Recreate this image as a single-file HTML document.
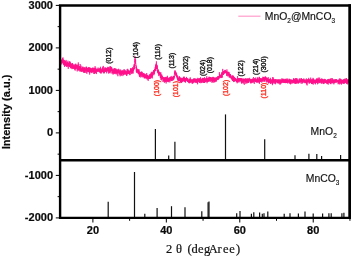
<!DOCTYPE html>
<html><head><meta charset="utf-8"><title>XRD</title>
<style>
html,body{margin:0;padding:0;background:#fff;}
body{width:351px;height:256px;overflow:hidden;}
svg{display:block;}
svg text{font-family:"Liberation Sans",sans-serif;}
.ax{font-weight:bold;font-size:11px;fill:#0a0a0a;stroke:#0a0a0a;stroke-width:0.2px;}
.pk{font-size:7px;}
.lb{font-size:10.4px;fill:#111;stroke:#111;stroke-width:0.15px;}
.xl{font-family:"Liberation Serif",serif;font-size:12.5px;fill:#111;stroke:#111;stroke-width:0.2px;white-space:pre;}
</style></head>
<body>
<svg width="351" height="256" viewBox="0 0 351 256">
<rect x="0" y="0" width="351" height="256" fill="#fff"/>
<polyline points="61.20,61.57 61.27,62.19 61.34,61.09 61.41,59.90 61.47,60.79 61.54,59.76 61.61,61.87 61.68,64.43 61.75,60.84 61.82,60.62 61.88,62.84 61.95,62.61 62.02,62.14 62.09,60.13 62.16,61.94 62.23,63.39 62.30,59.41 62.36,61.19 62.43,58.38 62.50,59.62 62.57,58.57 62.64,61.75 62.71,59.76 62.77,62.80 62.84,62.61 62.91,61.97 62.98,57.44 63.05,61.34 63.12,62.33 63.18,62.67 63.25,59.50 63.32,61.58 63.39,60.64 63.46,61.00 63.53,64.67 63.60,61.07 63.66,62.60 63.73,64.42 63.80,61.59 63.87,62.54 63.94,63.00 64.01,62.94 64.07,60.48 64.14,63.03 64.21,65.54 64.28,59.95 64.35,64.63 64.42,63.23 64.49,61.79 64.55,66.93 64.62,64.56 64.69,60.81 64.76,63.30 64.83,64.30 64.90,62.85 64.96,64.56 65.03,63.15 65.10,64.59 65.17,66.10 65.24,62.07 65.31,63.79 65.38,62.54 65.44,63.70 65.51,61.22 65.58,62.41 65.65,63.18 65.72,65.30 65.79,65.80 65.85,61.11 65.92,62.16 65.99,64.94 66.06,59.93 66.13,62.88 66.20,63.61 66.26,66.22 66.33,65.17 66.40,63.26 66.47,63.22 66.54,63.47 66.61,66.87 66.68,63.19 66.74,63.46 66.81,64.74 66.88,63.87 66.95,63.75 67.02,62.05 67.09,64.16 67.15,63.38 67.22,66.45 67.29,65.51 67.36,64.26 67.43,65.59 67.50,63.72 67.57,66.37 67.63,64.41 67.70,65.55 67.77,62.05 67.84,65.16 67.91,61.36 67.98,60.74 68.04,64.02 68.11,62.93 68.18,64.96 68.25,68.89 68.32,63.14 68.39,63.56 68.46,65.14 68.52,65.71 68.59,64.49 68.66,64.46 68.73,66.18 68.80,65.87 68.87,63.00 68.93,64.80 69.00,65.05 69.07,63.04 69.14,65.52 69.21,63.46 69.28,66.90 69.34,65.47 69.41,65.31 69.48,64.07 69.55,64.97 69.62,61.51 69.69,63.15 69.76,65.95 69.82,61.35 69.89,66.90 69.96,62.12 70.03,66.78 70.10,63.84 70.17,66.87 70.23,65.70 70.30,62.64 70.37,67.81 70.44,68.19 70.51,65.44 70.58,65.08 70.65,65.31 70.71,63.84 70.78,67.68 70.85,64.69 70.92,65.62 70.99,64.28 71.06,64.61 71.12,63.44 71.19,68.12 71.26,65.55 71.33,67.63 71.40,65.91 71.47,64.64 71.54,65.34 71.60,64.94 71.67,66.00 71.74,65.33 71.81,65.49 71.88,63.55 71.95,64.62 72.01,69.14 72.08,64.92 72.15,64.24 72.22,66.81 72.29,68.78 72.36,63.59 72.42,65.89 72.49,65.14 72.56,63.12 72.63,67.68 72.70,66.33 72.77,66.52 72.84,65.05 72.90,67.27 72.97,65.49 73.04,66.24 73.11,64.51 73.18,64.35 73.25,68.99 73.31,65.68 73.38,67.15 73.45,66.59 73.52,65.88 73.59,65.78 73.66,67.86 73.73,66.20 73.79,66.50 73.86,66.84 73.93,68.94 74.00,68.07 74.07,67.56 74.14,65.88 74.20,64.43 74.27,68.65 74.34,68.70 74.41,66.73 74.48,67.98 74.55,68.44 74.62,68.55 74.68,68.73 74.75,66.29 74.82,69.84 74.89,64.92 74.96,68.71 75.03,68.08 75.09,68.78 75.16,70.59 75.23,69.91 75.30,65.23 75.37,64.29 75.44,68.78 75.50,65.53 75.57,67.34 75.64,68.88 75.71,64.48 75.78,63.67 75.85,67.91 75.92,67.55 75.98,67.05 76.05,67.58 76.12,66.00 76.19,64.86 76.26,67.27 76.33,65.86 76.39,64.69 76.46,68.52 76.53,67.54 76.60,68.39 76.67,65.93 76.74,66.54 76.81,65.95 76.87,66.17 76.94,68.11 77.01,66.39 77.08,68.43 77.15,68.42 77.22,71.41 77.28,65.39 77.35,69.44 77.42,67.73 77.49,67.88 77.56,65.36 77.63,67.13 77.70,69.27 77.76,67.83 77.83,68.13 77.90,67.50 77.97,70.06 78.04,68.01 78.11,64.19 78.17,66.86 78.24,64.63 78.31,62.40 78.38,67.20 78.45,70.49 78.52,68.25 78.58,66.12 78.65,66.55 78.72,70.20 78.79,68.51 78.86,68.34 78.93,68.18 79.00,68.35 79.06,69.72 79.13,69.29 79.20,68.72 79.27,66.53 79.34,69.27 79.41,67.20 79.47,70.32 79.54,66.21 79.61,68.20 79.68,68.45 79.75,66.17 79.82,71.50 79.89,71.06 79.95,67.72 80.02,69.89 80.09,69.23 80.16,64.03 80.23,69.04 80.30,68.51 80.36,68.78 80.43,66.78 80.50,68.20 80.57,68.38 80.64,70.77 80.71,69.30 80.78,68.73 80.84,71.41 80.91,67.81 80.98,68.12 81.05,65.66 81.12,71.55 81.19,70.52 81.25,70.45 81.32,70.04 81.39,69.09 81.46,69.29 81.53,68.50 81.60,68.60 81.67,69.06 81.73,71.60 81.80,69.96 81.87,68.92 81.94,68.04 82.01,67.96 82.08,71.84 82.14,69.96 82.21,69.22 82.28,68.53 82.35,67.23 82.42,69.04 82.49,70.68 82.55,68.51 82.62,68.81 82.69,68.84 82.76,69.42 82.83,66.51 82.90,68.86 82.97,67.82 83.03,70.82 83.10,67.99 83.17,70.32 83.24,71.96 83.31,68.82 83.38,68.34 83.44,69.72 83.51,69.40 83.58,67.71 83.65,70.22 83.72,72.89 83.79,69.02 83.86,69.12 83.92,67.70 83.99,70.04 84.06,67.38 84.13,67.63 84.20,71.72 84.27,68.00 84.33,71.41 84.40,72.18 84.47,70.03 84.54,70.55 84.61,72.94 84.68,69.29 84.75,68.63 84.81,67.34 84.88,69.73 84.95,72.19 85.02,71.32 85.09,68.09 85.16,68.25 85.22,68.86 85.29,70.23 85.36,69.39 85.43,70.11 85.50,70.26 85.57,69.26 85.63,69.71 85.70,70.14 85.77,69.66 85.84,70.67 85.91,73.00 85.98,70.83 86.05,69.93 86.11,66.98 86.18,70.52 86.25,66.56 86.32,67.48 86.39,71.33 86.46,71.09 86.52,69.65 86.59,67.01 86.66,69.29 86.73,68.78 86.80,71.02 86.87,73.78 86.94,70.33 87.00,68.65 87.07,67.99 87.14,69.89 87.21,69.70 87.28,68.05 87.35,70.21 87.41,68.07 87.48,71.91 87.55,71.84 87.62,71.89 87.69,69.26 87.76,70.94 87.83,69.85 87.89,69.43 87.96,69.52 88.03,67.91 88.10,67.68 88.17,71.47 88.24,69.81 88.30,70.51 88.37,71.84 88.44,67.24 88.51,68.85 88.58,70.48 88.65,70.85 88.71,69.56 88.78,71.94 88.85,70.57 88.92,68.18 88.99,68.67 89.06,71.60 89.13,71.03 89.19,67.06 89.26,72.54 89.33,71.29 89.40,72.55 89.47,69.65 89.54,69.81 89.60,68.42 89.67,74.59 89.74,70.04 89.81,73.01 89.88,69.27 89.95,70.64 90.02,67.56 90.08,69.74 90.15,72.04 90.22,68.30 90.29,72.21 90.36,70.98 90.43,68.68 90.49,69.60 90.56,69.68 90.63,70.37 90.70,69.57 90.77,69.09 90.84,69.97 90.91,68.77 90.97,68.34 91.04,70.43 91.11,72.00 91.18,67.96 91.25,70.54 91.32,69.46 91.38,68.92 91.45,71.99 91.52,69.70 91.59,73.09 91.66,69.28 91.73,71.24 91.79,70.22 91.86,69.35 91.93,71.60 92.00,70.37 92.07,71.64 92.14,70.56 92.21,68.83 92.27,70.49 92.34,70.75 92.41,72.27 92.48,69.16 92.55,70.62 92.62,67.82 92.68,71.79 92.75,68.90 92.82,67.70 92.89,70.62 92.96,72.57 93.03,68.19 93.10,68.92 93.16,69.51 93.23,68.87 93.30,71.39 93.37,69.42 93.44,69.57 93.51,71.75 93.57,69.52 93.64,71.51 93.71,69.18 93.78,68.78 93.85,67.75 93.92,73.91 93.99,70.28 94.05,71.23 94.12,70.77 94.19,71.10 94.26,70.92 94.33,74.02 94.40,69.12 94.46,68.26 94.53,69.17 94.60,68.64 94.67,72.11 94.74,72.23 94.81,69.27 94.87,68.57 94.94,70.29 95.01,73.20 95.08,66.20 95.15,71.77 95.22,69.11 95.29,72.63 95.35,69.11 95.42,70.44 95.49,68.41 95.56,69.29 95.63,73.22 95.70,72.29 95.76,70.26 95.83,69.49 95.90,67.79 95.97,70.29 96.04,70.89 96.11,70.81 96.18,70.79 96.24,69.09 96.31,70.85 96.38,70.90 96.45,73.11 96.52,74.06 96.59,70.74 96.65,69.70 96.72,70.87 96.79,69.97 96.86,69.75 96.93,70.89 97.00,69.26 97.07,72.00 97.13,70.82 97.20,71.41 97.27,70.69 97.34,69.79 97.41,69.43 97.48,70.61 97.54,70.10 97.61,71.40 97.68,71.00 97.75,68.75 97.82,71.12 97.89,68.79 97.95,69.99 98.02,70.53 98.09,67.58 98.16,71.17 98.23,71.27 98.30,70.76 98.37,70.32 98.43,70.40 98.50,69.41 98.57,70.58 98.64,70.11 98.71,71.17 98.78,69.03 98.84,71.41 98.91,71.26 98.98,70.78 99.05,70.29 99.12,71.93 99.19,68.26 99.26,71.77 99.32,71.41 99.39,71.48 99.46,71.64 99.53,69.92 99.60,70.57 99.67,72.05 99.73,71.71 99.80,71.33 99.87,68.49 99.94,71.87 100.01,72.91 100.08,72.64 100.15,71.36 100.21,68.39 100.28,72.52 100.35,70.71 100.42,66.77 100.49,71.56 100.56,68.47 100.62,68.79 100.69,69.88 100.76,73.01 100.83,70.30 100.90,71.35 100.97,73.77 101.03,73.51 101.10,70.71 101.17,70.47 101.24,68.78 101.31,69.70 101.38,71.54 101.45,71.48 101.51,71.00 101.58,72.45 101.65,69.52 101.72,70.69 101.79,71.98 101.86,71.72 101.92,72.51 101.99,71.39 102.06,70.22 102.13,71.31 102.20,69.05 102.27,67.99 102.34,71.63 102.40,70.57 102.47,71.15 102.54,67.84 102.61,70.01 102.68,69.61 102.75,69.16 102.81,66.86 102.88,70.00 102.95,72.01 103.02,71.15 103.09,69.52 103.16,70.46 103.23,71.71 103.29,65.91 103.36,70.23 103.43,71.31 103.50,71.52 103.57,73.18 103.64,72.23 103.70,70.86 103.77,70.82 103.84,71.60 103.91,69.41 103.98,70.21 104.05,71.74 104.11,73.45 104.18,69.96 104.25,70.12 104.32,70.51 104.39,72.37 104.46,70.09 104.53,72.54 104.59,68.52 104.66,69.78 104.73,69.74 104.80,71.34 104.87,71.74 104.94,67.54 105.00,68.49 105.07,70.53 105.14,68.88 105.21,67.44 105.28,71.62 105.35,70.71 105.42,70.69 105.48,69.09 105.55,71.54 105.62,69.44 105.69,71.62 105.76,68.31 105.83,68.39 105.89,70.11 105.96,68.61 106.03,70.85 106.10,70.15 106.17,68.20 106.24,69.82 106.31,69.11 106.37,71.17 106.44,68.62 106.51,68.93 106.58,71.62 106.65,73.29 106.72,72.89 106.78,69.71 106.85,69.95 106.92,72.09 106.99,69.37 107.06,67.97 107.13,69.75 107.19,70.29 107.26,68.19 107.33,66.85 107.40,67.18 107.47,70.62 107.54,68.29 107.61,69.29 107.67,69.87 107.74,70.53 107.81,68.97 107.88,70.33 107.95,68.06 108.02,68.92 108.08,67.84 108.15,71.36 108.22,69.47 108.29,68.31 108.36,68.95 108.43,69.16 108.50,70.67 108.56,66.93 108.63,67.85 108.70,68.93 108.77,73.69 108.84,71.12 108.91,69.39 108.97,70.74 109.04,72.94 109.11,69.22 109.18,69.01 109.25,71.60 109.32,70.44 109.39,70.74 109.45,68.83 109.52,72.81 109.59,72.47 109.66,70.62 109.73,70.83 109.80,66.43 109.86,70.79 109.93,69.45 110.00,70.49 110.07,70.91 110.14,69.26 110.21,67.08 110.27,70.45 110.34,68.67 110.41,69.36 110.48,68.93 110.55,69.38 110.62,66.20 110.69,71.96 110.75,70.41 110.82,71.83 110.89,73.27 110.96,70.11 111.03,67.16 111.10,68.66 111.16,68.18 111.23,69.35 111.30,70.32 111.37,66.96 111.44,70.80 111.51,67.81 111.58,70.77 111.64,70.14 111.71,69.83 111.78,70.25 111.85,69.52 111.92,69.42 111.99,67.71 112.05,70.42 112.12,73.50 112.19,73.74 112.26,72.70 112.33,71.72 112.40,69.50 112.47,72.97 112.53,70.57 112.60,70.57 112.67,70.24 112.74,70.88 112.81,70.05 112.88,70.65 112.94,69.05 113.01,70.23 113.08,74.57 113.15,70.78 113.22,70.53 113.29,71.80 113.35,72.11 113.42,69.18 113.49,70.68 113.56,72.53 113.63,71.50 113.70,71.29 113.77,73.63 113.83,70.04 113.90,71.29 113.97,70.34 114.04,73.62 114.11,68.07 114.18,70.17 114.24,70.42 114.31,72.37 114.38,72.30 114.45,73.60 114.52,68.81 114.59,72.60 114.66,70.93 114.72,70.35 114.79,72.32 114.86,69.97 114.93,68.12 115.00,70.90 115.07,69.10 115.13,70.49 115.20,72.16 115.27,72.08 115.34,74.16 115.41,71.29 115.48,69.15 115.55,70.42 115.61,70.18 115.68,69.71 115.75,72.40 115.82,70.67 115.89,68.53 115.96,72.87 116.02,71.58 116.09,72.35 116.16,71.96 116.23,72.82 116.30,71.88 116.37,73.83 116.44,72.53 116.50,72.49 116.57,72.53 116.64,69.53 116.71,71.63 116.78,71.49 116.85,72.25 116.91,69.74 116.98,74.58 117.05,72.12 117.12,70.01 117.19,69.22 117.26,71.53 117.32,71.85 117.39,70.85 117.46,72.17 117.53,70.99 117.60,72.93 117.67,70.88 117.74,72.00 117.80,73.64 117.87,76.22 117.94,70.46 118.01,71.35 118.08,70.75 118.15,73.37 118.21,70.27 118.28,71.35 118.35,72.09 118.42,70.57 118.49,70.61 118.56,71.39 118.63,68.78 118.69,69.85 118.76,71.51 118.83,72.42 118.90,71.89 118.97,69.35 119.04,71.46 119.10,73.50 119.17,73.11 119.24,72.10 119.31,70.80 119.38,73.25 119.45,71.31 119.52,70.37 119.58,70.97 119.65,74.59 119.72,72.62 119.79,74.13 119.86,71.51 119.93,73.79 119.99,71.32 120.06,72.04 120.13,76.29 120.20,73.53 120.27,71.50 120.34,72.17 120.40,72.84 120.47,74.26 120.54,71.54 120.61,69.53 120.68,71.88 120.75,72.36 120.82,72.51 120.88,74.45 120.95,72.85 121.02,73.65 121.09,70.59 121.16,73.74 121.23,75.72 121.29,73.60 121.36,72.77 121.43,72.61 121.50,75.23 121.57,70.89 121.64,72.20 121.71,73.11 121.77,73.57 121.84,71.68 121.91,72.88 121.98,71.94 122.05,72.58 122.12,72.18 122.18,70.57 122.25,72.36 122.32,73.80 122.39,70.85 122.46,72.02 122.53,73.47 122.60,70.69 122.66,72.70 122.73,70.71 122.80,74.22 122.87,76.10 122.94,75.64 123.01,72.06 123.07,73.60 123.14,72.61 123.21,72.58 123.28,74.89 123.35,70.31 123.42,74.10 123.48,72.34 123.55,74.67 123.62,72.72 123.69,71.35 123.76,72.87 123.83,73.60 123.90,72.49 123.96,73.21 124.03,71.60 124.10,69.03 124.17,73.87 124.24,73.55 124.31,72.67 124.37,72.54 124.44,74.09 124.51,71.71 124.58,71.31 124.65,72.14 124.72,74.33 124.79,70.23 124.85,74.34 124.92,71.42 124.99,70.69 125.06,74.45 125.13,72.29 125.20,70.38 125.26,71.87 125.33,73.92 125.40,74.34 125.47,71.77 125.54,73.09 125.61,73.58 125.68,71.42 125.74,73.01 125.81,72.39 125.88,71.59 125.95,71.66 126.02,72.55 126.09,72.49 126.15,71.54 126.22,71.77 126.29,74.20 126.36,72.78 126.43,73.84 126.50,74.34 126.56,73.37 126.63,76.03 126.70,71.12 126.77,73.71 126.84,71.92 126.91,75.36 126.98,75.11 127.04,69.33 127.11,70.89 127.18,73.46 127.25,73.66 127.32,73.57 127.39,72.29 127.45,73.12 127.52,73.42 127.59,72.27 127.66,74.00 127.73,68.82 127.80,73.37 127.87,70.74 127.93,73.87 128.00,71.99 128.07,70.95 128.14,72.93 128.21,70.90 128.28,70.89 128.34,69.85 128.41,72.26 128.48,73.08 128.55,73.89 128.62,72.05 128.69,73.91 128.76,72.28 128.82,72.10 128.89,73.13 128.96,73.88 129.03,71.67 129.10,71.81 129.17,71.92 129.23,72.29 129.30,70.73 129.37,73.74 129.44,71.49 129.51,72.82 129.58,70.79 129.64,72.62 129.71,72.65 129.78,71.36 129.85,75.16 129.92,72.56 129.99,74.74 130.06,73.44 130.12,70.88 130.19,71.29 130.26,72.55 130.33,71.93 130.40,71.89 130.47,71.34 130.53,68.93 130.60,71.38 130.67,68.24 130.74,72.25 130.81,70.50 130.88,70.49 130.95,71.23 131.01,71.96 131.08,69.27 131.15,68.74 131.22,69.76 131.29,68.21 131.36,69.84 131.42,73.78 131.49,69.62 131.56,72.23 131.63,69.04 131.70,71.59 131.77,70.59 131.84,70.94 131.90,71.87 131.97,73.66 132.04,71.18 132.11,71.02 132.18,69.26 132.25,71.62 132.31,70.27 132.38,71.88 132.45,70.46 132.52,73.16 132.59,67.32 132.66,69.87 132.72,71.62 132.79,69.64 132.86,68.88 132.93,69.61 133.00,67.81 133.07,70.04 133.14,73.54 133.20,71.45 133.27,67.86 133.34,68.12 133.41,68.74 133.48,70.80 133.55,67.85 133.61,67.92 133.68,70.22 133.75,70.03 133.82,67.95 133.89,66.62 133.96,65.76 134.03,66.86 134.09,64.25 134.16,68.58 134.23,66.15 134.30,67.52 134.37,69.27 134.44,67.77 134.50,63.70 134.57,66.26 134.64,66.09 134.71,62.47 134.78,61.42 134.85,61.95 134.92,58.88 134.98,62.88 135.05,56.33 135.12,57.91 135.19,59.03 135.26,59.20 135.33,60.17 135.39,60.90 135.46,60.87 135.53,63.73 135.60,59.51 135.67,63.57 135.74,63.20 135.80,65.16 135.87,65.90 135.94,64.70 136.01,65.59 136.08,68.21 136.15,67.91 136.22,66.68 136.28,71.14 136.35,71.83 136.42,66.32 136.49,69.25 136.56,72.83 136.63,70.39 136.69,69.72 136.76,69.23 136.83,68.89 136.90,69.54 136.97,69.17 137.04,71.28 137.11,69.67 137.17,69.73 137.24,68.70 137.31,70.57 137.38,69.40 137.45,70.59 137.52,72.56 137.58,71.63 137.65,71.94 137.72,71.82 137.79,71.46 137.86,71.27 137.93,71.09 138.00,72.80 138.06,70.09 138.13,73.85 138.20,71.95 138.27,70.85 138.34,71.33 138.41,71.12 138.47,72.47 138.54,71.21 138.61,74.10 138.68,71.27 138.75,69.09 138.82,71.49 138.88,69.63 138.95,72.67 139.02,74.40 139.09,73.84 139.16,70.91 139.23,71.84 139.30,75.74 139.36,73.60 139.43,73.19 139.50,74.83 139.57,76.99 139.64,75.31 139.71,73.62 139.77,74.00 139.84,74.45 139.91,72.66 139.98,72.04 140.05,73.76 140.12,72.31 140.19,73.69 140.25,73.98 140.32,77.40 140.39,72.66 140.46,73.80 140.53,73.78 140.60,74.73 140.66,75.69 140.73,73.43 140.80,72.98 140.87,71.80 140.94,72.91 141.01,75.14 141.08,74.45 141.14,72.91 141.21,73.91 141.28,74.55 141.35,75.30 141.42,73.70 141.49,74.25 141.55,71.95 141.62,72.99 141.69,77.15 141.76,71.52 141.83,74.31 141.90,75.17 141.96,74.33 142.03,73.72 142.10,74.86 142.17,74.98 142.24,74.90 142.31,72.27 142.38,74.87 142.44,73.85 142.51,74.34 142.58,75.52 142.65,76.16 142.72,76.57 142.79,74.54 142.85,76.68 142.92,77.08 142.99,77.05 143.06,77.45 143.13,75.21 143.20,75.20 143.27,76.70 143.33,73.50 143.40,75.85 143.47,74.79 143.54,75.05 143.61,73.06 143.68,74.34 143.74,75.65 143.81,77.02 143.88,77.19 143.95,75.64 144.02,75.51 144.09,74.59 144.16,76.43 144.22,75.50 144.29,76.78 144.36,78.49 144.43,75.89 144.50,73.76 144.57,74.72 144.63,73.87 144.70,74.28 144.77,77.97 144.84,76.41 144.91,73.87 144.98,77.08 145.04,77.99 145.11,75.64 145.18,75.20 145.25,75.72 145.32,76.65 145.39,77.19 145.46,78.01 145.52,78.07 145.59,78.05 145.66,78.33 145.73,77.33 145.80,74.15 145.87,76.21 145.93,76.88 146.00,75.88 146.07,77.78 146.14,75.95 146.21,75.15 146.28,78.61 146.35,77.50 146.41,76.86 146.48,77.91 146.55,78.12 146.62,77.09 146.69,73.04 146.76,75.64 146.82,75.97 146.89,75.22 146.96,76.95 147.03,78.40 147.10,75.98 147.17,75.05 147.24,79.65 147.30,76.06 147.37,74.94 147.44,77.08 147.51,77.36 147.58,75.73 147.65,77.90 147.71,76.06 147.78,75.44 147.85,77.03 147.92,77.89 147.99,75.87 148.06,77.26 148.12,76.65 148.19,80.86 148.26,75.76 148.33,78.78 148.40,76.71 148.47,76.60 148.54,77.82 148.60,78.06 148.67,78.59 148.74,77.23 148.81,75.89 148.88,75.97 148.95,77.47 149.01,77.56 149.08,78.72 149.15,77.30 149.22,78.21 149.29,78.85 149.36,76.88 149.43,74.49 149.49,74.91 149.56,74.52 149.63,78.85 149.70,75.32 149.77,78.28 149.84,77.33 149.90,78.92 149.97,77.87 150.04,76.25 150.11,76.08 150.18,76.45 150.25,76.55 150.32,75.50 150.38,76.17 150.45,78.49 150.52,73.70 150.59,76.46 150.66,74.75 150.73,76.27 150.79,77.16 150.86,75.82 150.93,76.96 151.00,73.53 151.07,77.33 151.14,74.83 151.21,76.52 151.27,75.84 151.34,71.82 151.41,74.37 151.48,75.70 151.55,77.54 151.62,75.67 151.68,75.56 151.75,73.10 151.82,77.09 151.89,77.55 151.96,74.94 152.03,74.51 152.09,72.44 152.16,75.93 152.23,78.44 152.30,75.53 152.37,76.23 152.44,75.11 152.51,72.85 152.57,76.07 152.64,72.32 152.71,73.69 152.78,74.30 152.85,75.07 152.92,74.31 152.98,74.18 153.05,72.45 153.12,71.61 153.19,73.43 153.26,72.24 153.33,71.29 153.40,71.25 153.46,72.26 153.53,70.22 153.60,70.84 153.67,70.33 153.74,72.81 153.81,73.02 153.87,75.19 153.94,70.11 154.01,71.16 154.08,73.31 154.15,71.60 154.22,71.33 154.29,74.10 154.35,71.08 154.42,69.80 154.49,69.45 154.56,71.67 154.63,71.49 154.70,68.98 154.76,69.39 154.83,71.40 154.90,71.31 154.97,69.42 155.04,71.04 155.11,70.79 155.17,67.27 155.24,69.15 155.31,69.96 155.38,68.33 155.45,65.87 155.52,68.22 155.59,69.39 155.65,70.25 155.72,64.59 155.79,71.03 155.86,65.38 155.93,67.95 156.00,67.97 156.06,67.26 156.13,65.76 156.20,63.63 156.27,65.95 156.34,63.93 156.41,61.35 156.48,68.96 156.54,66.14 156.61,67.94 156.68,64.40 156.75,68.10 156.82,68.65 156.89,68.99 156.95,67.17 157.02,65.88 157.09,67.69 157.16,65.19 157.23,66.22 157.30,69.05 157.37,67.81 157.43,69.24 157.50,69.56 157.57,72.66 157.64,71.99 157.71,70.31 157.78,72.26 157.84,69.66 157.91,70.46 157.98,72.37 158.05,69.52 158.12,71.03 158.19,69.72 158.25,71.88 158.32,74.15 158.39,70.95 158.46,72.46 158.53,71.02 158.60,70.80 158.67,70.81 158.73,74.70 158.80,76.10 158.87,73.60 158.94,72.04 159.01,74.16 159.08,72.83 159.14,74.54 159.21,73.94 159.28,74.05 159.35,74.62 159.42,73.08 159.49,73.44 159.56,71.72 159.62,73.62 159.69,72.37 159.76,74.26 159.83,73.24 159.90,74.83 159.97,75.43 160.03,72.93 160.10,73.88 160.17,73.81 160.24,76.27 160.31,77.71 160.38,76.62 160.45,75.05 160.51,77.68 160.58,73.63 160.65,77.93 160.72,75.02 160.79,72.16 160.86,79.81 160.92,78.41 160.99,74.88 161.06,76.64 161.13,76.19 161.20,76.72 161.27,74.60 161.33,75.80 161.40,77.48 161.47,77.22 161.54,78.65 161.61,77.18 161.68,80.40 161.75,76.22 161.81,77.65 161.88,74.70 161.95,75.69 162.02,79.34 162.09,76.26 162.16,78.37 162.22,77.61 162.29,76.31 162.36,77.34 162.43,77.17 162.50,77.26 162.57,79.04 162.64,78.95 162.70,77.30 162.77,76.90 162.84,78.59 162.91,78.11 162.98,79.72 163.05,82.02 163.11,79.56 163.18,78.39 163.25,78.24 163.32,77.33 163.39,77.31 163.46,77.21 163.53,78.09 163.59,78.08 163.66,79.73 163.73,78.19 163.80,78.50 163.87,77.12 163.94,81.10 164.00,79.56 164.07,81.36 164.14,80.02 164.21,81.00 164.28,78.63 164.35,79.98 164.41,82.74 164.48,77.35 164.55,80.68 164.62,81.42 164.69,79.68 164.76,80.17 164.83,80.90 164.89,78.24 164.96,79.75 165.03,77.97 165.10,78.26 165.17,78.35 165.24,79.04 165.30,79.46 165.37,79.90 165.44,77.28 165.51,82.07 165.58,80.93 165.65,80.33 165.72,78.82 165.78,79.21 165.85,80.11 165.92,79.93 165.99,77.00 166.06,80.41 166.13,83.48 166.19,76.78 166.26,80.79 166.33,79.92 166.40,79.25 166.47,81.34 166.54,77.75 166.61,79.65 166.67,81.49 166.74,79.15 166.81,78.85 166.88,79.60 166.95,78.82 167.02,81.63 167.08,78.17 167.15,80.68 167.22,77.69 167.29,80.40 167.36,79.31 167.43,75.82 167.49,79.45 167.56,77.96 167.63,78.84 167.70,81.64 167.77,77.89 167.84,77.98 167.91,81.50 167.97,79.63 168.04,81.64 168.11,79.93 168.18,78.23 168.25,79.38 168.32,81.20 168.38,80.80 168.45,79.47 168.52,79.54 168.59,79.31 168.66,78.65 168.73,82.19 168.80,79.48 168.86,77.87 168.93,78.79 169.00,80.48 169.07,80.36 169.14,79.26 169.21,78.51 169.27,79.48 169.34,77.09 169.41,77.61 169.48,80.56 169.55,78.76 169.62,79.96 169.69,81.14 169.75,80.33 169.82,79.44 169.89,82.40 169.96,80.34 170.03,78.90 170.10,80.42 170.16,79.96 170.23,78.17 170.30,79.47 170.37,79.13 170.44,76.59 170.51,79.10 170.57,78.93 170.64,78.70 170.71,77.00 170.78,78.80 170.85,79.23 170.92,79.41 170.99,77.66 171.05,80.13 171.12,77.52 171.19,78.90 171.26,81.03 171.33,78.21 171.40,78.44 171.46,80.64 171.53,78.58 171.60,78.68 171.67,79.38 171.74,80.52 171.81,75.93 171.88,77.83 171.94,77.55 172.01,77.41 172.08,77.70 172.15,77.69 172.22,79.25 172.29,77.54 172.35,78.91 172.42,79.26 172.49,77.63 172.56,78.78 172.63,80.83 172.70,78.94 172.77,77.54 172.83,78.27 172.90,77.01 172.97,78.60 173.04,79.34 173.11,76.91 173.18,77.68 173.24,79.42 173.31,77.08 173.38,77.92 173.45,76.12 173.52,76.28 173.59,76.57 173.65,80.11 173.72,76.43 173.79,76.11 173.86,75.89 173.93,76.25 174.00,77.17 174.07,76.33 174.13,78.65 174.20,75.91 174.27,77.35 174.34,75.50 174.41,75.69 174.48,72.64 174.54,74.15 174.61,73.96 174.68,73.45 174.75,70.59 174.82,74.46 174.89,72.50 174.96,72.22 175.02,72.28 175.09,72.17 175.16,72.92 175.23,70.57 175.30,71.01 175.37,72.70 175.43,72.57 175.50,71.98 175.57,71.86 175.64,71.70 175.71,72.97 175.78,74.90 175.85,72.11 175.91,75.89 175.98,75.25 176.05,73.77 176.12,75.72 176.19,72.94 176.26,72.85 176.32,73.71 176.39,75.15 176.46,75.51 176.53,75.47 176.60,76.52 176.67,73.69 176.73,77.45 176.80,75.04 176.87,76.24 176.94,76.73 177.01,75.87 177.08,75.72 177.15,76.35 177.21,77.82 177.28,78.75 177.35,78.83 177.42,76.82 177.49,77.19 177.56,77.11 177.62,79.05 177.69,75.76 177.76,80.28 177.83,78.01 177.90,77.67 177.97,79.26 178.04,80.26 178.10,79.38 178.17,80.40 178.24,79.21 178.31,80.74 178.38,80.81 178.45,79.03 178.51,81.15 178.58,79.47 178.65,79.40 178.72,78.07 178.79,78.96 178.86,80.44 178.93,77.64 178.99,80.33 179.06,79.95 179.13,79.88 179.20,76.54 179.27,79.41 179.34,80.46 179.40,78.57 179.47,79.75 179.54,76.43 179.61,80.57 179.68,78.79 179.75,80.88 179.81,77.23 179.88,80.67 179.95,79.43 180.02,80.86 180.09,78.53 180.16,78.96 180.23,82.84 180.29,78.70 180.36,78.88 180.43,79.47 180.50,78.47 180.57,81.48 180.64,82.21 180.70,78.93 180.77,77.56 180.84,81.48 180.91,81.41 180.98,81.03 181.05,81.48 181.12,78.75 181.18,79.70 181.25,78.07 181.32,78.02 181.39,81.27 181.46,79.04 181.53,83.03 181.59,80.05 181.66,79.08 181.73,81.03 181.80,82.38 181.87,80.60 181.94,78.30 182.01,80.45 182.07,81.80 182.14,79.27 182.21,78.89 182.28,81.30 182.35,80.11 182.42,78.43 182.48,79.40 182.55,78.89 182.62,80.30 182.69,80.04 182.76,81.44 182.83,80.83 182.89,77.76 182.96,80.41 183.03,81.06 183.10,80.45 183.17,81.22 183.24,79.08 183.31,78.52 183.37,81.05 183.44,78.35 183.51,76.86 183.58,81.14 183.65,78.77 183.72,79.32 183.78,77.84 183.85,77.93 183.92,78.14 183.99,79.20 184.06,80.18 184.13,76.57 184.20,80.67 184.26,78.05 184.33,78.20 184.40,80.54 184.47,79.52 184.54,77.54 184.61,82.09 184.67,78.43 184.74,79.92 184.81,79.85 184.88,81.47 184.95,78.95 185.02,80.92 185.09,78.56 185.15,81.07 185.22,78.53 185.29,79.07 185.36,82.11 185.43,79.98 185.50,79.71 185.56,82.58 185.63,80.05 185.70,78.47 185.77,80.56 185.84,77.99 185.91,81.11 185.97,81.22 186.04,78.83 186.11,78.77 186.18,79.86 186.25,79.65 186.32,78.33 186.39,80.42 186.45,76.93 186.52,79.11 186.59,79.16 186.66,79.35 186.73,80.15 186.80,78.10 186.86,80.56 186.93,79.54 187.00,78.93 187.07,77.98 187.14,78.25 187.21,80.34 187.28,78.58 187.34,79.98 187.41,81.34 187.48,81.32 187.55,82.05 187.62,79.58 187.69,78.54 187.75,81.39 187.82,80.45 187.89,81.56 187.96,80.09 188.03,81.70 188.10,81.25 188.17,81.09 188.23,80.82 188.30,80.70 188.37,80.49 188.44,80.50 188.51,81.54 188.58,79.54 188.64,82.58 188.71,80.12 188.78,81.60 188.85,80.17 188.92,79.97 188.99,83.05 189.06,79.92 189.12,78.63 189.19,79.40 189.26,79.95 189.33,83.28 189.40,80.67 189.47,81.66 189.53,79.07 189.60,80.90 189.67,81.34 189.74,82.86 189.81,79.52 189.88,81.27 189.94,80.88 190.01,79.11 190.08,80.46 190.15,80.14 190.22,77.38 190.29,81.31 190.36,81.24 190.42,79.93 190.49,78.73 190.56,82.52 190.63,80.89 190.70,81.91 190.77,82.44 190.83,79.85 190.90,81.64 190.97,80.24 191.04,80.48 191.11,80.45 191.18,80.57 191.25,82.07 191.31,80.74 191.38,80.38 191.45,80.21 191.52,81.05 191.59,79.39 191.66,79.92 191.72,80.53 191.79,79.84 191.86,80.44 191.93,79.79 192.00,83.29 192.07,82.39 192.14,81.21 192.20,80.54 192.27,83.55 192.34,81.05 192.41,80.50 192.48,81.03 192.55,81.03 192.61,82.51 192.68,80.60 192.75,83.44 192.82,79.45 192.89,81.56 192.96,79.29 193.02,83.07 193.09,80.19 193.16,80.56 193.23,81.87 193.30,82.32 193.37,79.15 193.44,80.18 193.50,78.77 193.57,80.83 193.64,80.51 193.71,80.18 193.78,79.73 193.85,80.13 193.91,79.65 193.98,81.36 194.05,82.68 194.12,78.07 194.19,80.50 194.26,80.09 194.33,81.31 194.39,79.38 194.46,80.46 194.53,79.26 194.60,81.59 194.67,80.79 194.74,80.44 194.80,81.15 194.87,80.33 194.94,78.58 195.01,81.46 195.08,81.05 195.15,80.45 195.22,81.98 195.28,82.29 195.35,79.20 195.42,79.62 195.49,82.73 195.56,82.56 195.63,79.68 195.69,79.09 195.76,79.81 195.83,80.00 195.90,78.55 195.97,80.71 196.04,78.95 196.10,79.05 196.17,81.89 196.24,79.75 196.31,80.57 196.38,81.51 196.45,81.76 196.52,80.22 196.58,80.73 196.65,79.57 196.72,83.01 196.79,81.54 196.86,79.19 196.93,80.68 196.99,81.62 197.06,81.31 197.13,83.12 197.20,82.50 197.27,79.95 197.34,80.55 197.41,78.95 197.47,81.00 197.54,80.87 197.61,84.28 197.68,80.79 197.75,77.86 197.82,79.76 197.88,80.81 197.95,78.98 198.02,79.50 198.09,80.17 198.16,81.11 198.23,80.43 198.30,79.46 198.36,81.70 198.43,79.92 198.50,79.98 198.57,78.80 198.64,79.59 198.71,81.51 198.77,78.47 198.84,80.53 198.91,81.58 198.98,80.11 199.05,80.93 199.12,79.12 199.18,82.36 199.25,82.07 199.32,80.91 199.39,78.24 199.46,79.18 199.53,81.88 199.60,82.86 199.66,80.96 199.73,82.22 199.80,79.73 199.87,80.29 199.94,80.53 200.01,81.09 200.07,78.47 200.14,81.76 200.21,82.26 200.28,78.95 200.35,78.67 200.42,80.94 200.49,79.58 200.55,77.28 200.62,81.52 200.69,80.63 200.76,79.78 200.83,83.23 200.90,80.58 200.96,79.38 201.03,80.51 201.10,78.97 201.17,79.33 201.24,80.86 201.31,79.59 201.38,79.72 201.44,82.54 201.51,81.45 201.58,81.36 201.65,80.98 201.72,80.91 201.79,82.20 201.85,80.22 201.92,82.72 201.99,78.96 202.06,79.88 202.13,78.37 202.20,79.74 202.26,80.89 202.33,82.13 202.40,79.29 202.47,80.18 202.54,79.69 202.61,79.18 202.68,78.57 202.74,80.23 202.81,77.83 202.88,80.29 202.95,80.17 203.02,79.26 203.09,78.78 203.15,78.28 203.22,82.63 203.29,78.34 203.36,82.21 203.43,80.93 203.50,79.64 203.57,78.58 203.63,81.52 203.70,82.44 203.77,78.88 203.84,79.73 203.91,81.54 203.98,80.58 204.04,82.81 204.11,79.38 204.18,80.87 204.25,78.47 204.32,82.95 204.39,79.17 204.46,77.20 204.52,79.98 204.59,79.97 204.66,82.71 204.73,79.70 204.80,80.14 204.87,80.95 204.93,82.28 205.00,80.08 205.07,81.55 205.14,80.85 205.21,79.76 205.28,80.26 205.34,80.19 205.41,78.93 205.48,81.77 205.55,78.29 205.62,81.71 205.69,81.41 205.76,80.01 205.82,79.10 205.89,79.82 205.96,80.74 206.03,81.10 206.10,80.48 206.17,81.41 206.23,79.33 206.30,80.38 206.37,77.96 206.44,81.06 206.51,80.23 206.58,79.46 206.65,81.55 206.71,80.91 206.78,76.21 206.85,80.01 206.92,78.00 206.99,81.35 207.06,83.23 207.12,79.20 207.19,79.97 207.26,79.52 207.33,80.31 207.40,80.68 207.47,81.52 207.54,78.46 207.60,81.86 207.67,78.50 207.74,80.09 207.81,81.25 207.88,80.64 207.95,78.41 208.01,78.71 208.08,79.01 208.15,79.54 208.22,81.12 208.29,77.84 208.36,80.17 208.42,80.34 208.49,80.25 208.56,80.11 208.63,81.50 208.70,80.11 208.77,80.58 208.84,80.18 208.90,81.80 208.97,76.85 209.04,81.09 209.11,79.01 209.18,78.97 209.25,78.04 209.31,76.83 209.38,78.80 209.45,78.38 209.52,79.95 209.59,77.32 209.66,81.19 209.73,79.63 209.79,78.93 209.86,78.31 209.93,78.20 210.00,77.73 210.07,78.51 210.14,79.24 210.20,79.00 210.27,77.34 210.34,78.88 210.41,78.04 210.48,79.45 210.55,81.73 210.62,80.07 210.68,78.82 210.75,77.07 210.82,77.36 210.89,77.00 210.96,80.23 211.03,78.24 211.09,79.36 211.16,78.45 211.23,79.41 211.30,81.17 211.37,78.39 211.44,78.86 211.50,78.25 211.57,80.50 211.64,77.98 211.71,77.84 211.78,77.51 211.85,77.50 211.92,80.02 211.98,82.83 212.05,78.08 212.12,80.69 212.19,79.77 212.26,77.97 212.33,79.09 212.39,79.16 212.46,78.55 212.53,82.07 212.60,76.95 212.67,80.02 212.74,79.96 212.81,78.75 212.87,79.74 212.94,80.72 213.01,79.76 213.08,80.12 213.15,80.49 213.22,76.86 213.28,81.56 213.35,82.63 213.42,80.90 213.49,80.95 213.56,77.72 213.63,79.45 213.70,78.52 213.76,78.82 213.83,80.90 213.90,78.54 213.97,79.44 214.04,77.06 214.11,79.39 214.17,79.72 214.24,78.66 214.31,78.63 214.38,82.11 214.45,77.97 214.52,78.18 214.58,78.49 214.65,81.16 214.72,82.36 214.79,79.99 214.86,78.58 214.93,78.95 215.00,80.93 215.06,78.28 215.13,81.42 215.20,81.36 215.27,79.55 215.34,80.30 215.41,80.42 215.47,81.48 215.54,77.98 215.61,80.94 215.68,78.84 215.75,78.29 215.82,79.43 215.89,78.99 215.95,77.93 216.02,77.09 216.09,77.94 216.16,81.11 216.23,81.77 216.30,79.98 216.36,80.67 216.43,78.37 216.50,78.92 216.57,79.37 216.64,77.52 216.71,77.61 216.78,79.03 216.84,78.43 216.91,77.40 216.98,79.31 217.05,78.40 217.12,80.08 217.19,78.67 217.25,78.23 217.32,78.77 217.39,78.32 217.46,77.62 217.53,77.93 217.60,79.43 217.66,79.25 217.73,80.06 217.80,76.03 217.87,77.72 217.94,77.64 218.01,78.38 218.08,77.50 218.14,77.37 218.21,79.05 218.28,78.19 218.35,76.34 218.42,79.63 218.49,79.12 218.55,76.97 218.62,78.79 218.69,76.65 218.76,79.08 218.83,77.22 218.90,76.38 218.97,76.90 219.03,76.32 219.10,77.54 219.17,77.45 219.24,77.21 219.31,76.35 219.38,72.14 219.44,77.10 219.51,74.37 219.58,77.17 219.65,78.29 219.72,77.08 219.79,76.13 219.86,76.34 219.92,76.33 219.99,75.71 220.06,75.59 220.13,75.07 220.20,77.82 220.27,76.15 220.33,77.37 220.40,75.69 220.47,76.05 220.54,75.65 220.61,76.43 220.68,76.84 220.74,75.98 220.81,74.69 220.88,74.47 220.95,77.66 221.02,74.99 221.09,74.90 221.16,77.18 221.22,76.60 221.29,75.78 221.36,74.46 221.43,78.06 221.50,75.37 221.57,75.50 221.63,74.46 221.70,72.73 221.77,72.76 221.84,75.01 221.91,74.91 221.98,74.00 222.05,72.68 222.11,72.24 222.18,73.66 222.25,72.08 222.32,75.15 222.39,75.42 222.46,77.58 222.52,74.91 222.59,72.87 222.66,72.43 222.73,68.91 222.80,72.66 222.87,73.15 222.94,74.62 223.00,74.08 223.07,73.98 223.14,73.42 223.21,73.95 223.28,74.94 223.35,71.53 223.41,72.28 223.48,70.98 223.55,74.94 223.62,74.46 223.69,73.68 223.76,71.03 223.83,72.81 223.89,72.22 223.96,72.60 224.03,72.20 224.10,73.10 224.17,71.84 224.24,73.48 224.30,72.62 224.37,71.88 224.44,72.09 224.51,71.63 224.58,73.28 224.65,71.81 224.71,72.54 224.78,71.61 224.85,70.13 224.92,73.32 224.99,70.68 225.06,73.00 225.13,72.65 225.19,69.87 225.26,70.82 225.33,71.40 225.40,71.00 225.47,70.52 225.54,73.10 225.60,71.81 225.67,72.66 225.74,71.59 225.81,72.59 225.88,71.21 225.95,72.20 226.02,73.04 226.08,72.36 226.15,71.72 226.22,70.91 226.29,72.63 226.36,72.90 226.43,72.14 226.49,71.50 226.56,73.30 226.63,75.94 226.70,72.27 226.77,73.17 226.84,73.28 226.91,69.40 226.97,73.05 227.04,72.00 227.11,74.85 227.18,72.72 227.25,72.08 227.32,72.89 227.38,73.47 227.45,72.57 227.52,73.31 227.59,71.64 227.66,73.21 227.73,74.62 227.79,76.28 227.86,74.67 227.93,74.16 228.00,75.45 228.07,75.30 228.14,76.23 228.21,75.53 228.27,74.00 228.34,74.58 228.41,74.55 228.48,74.78 228.55,74.72 228.62,73.49 228.68,71.80 228.75,73.78 228.82,72.05 228.89,74.92 228.96,74.91 229.03,72.74 229.10,75.98 229.16,76.29 229.23,75.34 229.30,77.51 229.37,77.86 229.44,73.82 229.51,76.89 229.57,76.17 229.64,76.21 229.71,76.98 229.78,74.84 229.85,75.08 229.92,74.84 229.99,75.01 230.05,75.96 230.12,74.22 230.19,74.83 230.26,77.07 230.33,76.27 230.40,76.95 230.46,73.98 230.53,75.52 230.60,75.90 230.67,76.75 230.74,75.99 230.81,78.08 230.87,76.82 230.94,76.99 231.01,77.05 231.08,78.04 231.15,76.52 231.22,78.72 231.29,77.89 231.35,77.54 231.42,77.45 231.49,78.15 231.56,78.87 231.63,78.83 231.70,78.13 231.76,78.85 231.83,77.90 231.90,79.47 231.97,77.81 232.04,75.13 232.11,79.74 232.18,78.15 232.24,76.49 232.31,77.84 232.38,76.97 232.45,81.01 232.52,78.92 232.59,76.20 232.65,79.08 232.72,77.86 232.79,81.00 232.86,77.08 232.93,75.52 233.00,78.66 233.07,78.15 233.13,78.10 233.20,75.83 233.27,79.31 233.34,81.01 233.41,76.26 233.48,80.42 233.54,78.13 233.61,82.07 233.68,79.55 233.75,78.75 233.82,80.51 233.89,79.77 233.95,78.31 234.02,80.08 234.09,78.49 234.16,76.81 234.23,81.95 234.30,78.80 234.37,78.48 234.43,79.77 234.50,77.27 234.57,77.57 234.64,78.74 234.71,78.74 234.78,79.56 234.84,80.99 234.91,78.88 234.98,80.20 235.05,80.37 235.12,78.14 235.19,79.91 235.26,78.37 235.32,81.08 235.39,80.28 235.46,79.72 235.53,77.93 235.60,79.89 235.67,78.73 235.73,80.72 235.80,79.64 235.87,78.73 235.94,81.07 236.01,80.81 236.08,79.07 236.15,81.44 236.21,79.50 236.28,79.50 236.35,80.09 236.42,78.94 236.49,79.37 236.56,79.76 236.62,82.03 236.69,82.00 236.76,79.66 236.83,82.17 236.90,79.97 236.97,80.55 237.03,81.23 237.10,80.45 237.17,83.29 237.24,80.40 237.31,78.48 237.38,81.83 237.45,79.54 237.51,79.69 237.58,76.10 237.65,81.44 237.72,81.20 237.79,81.18 237.86,81.42 237.92,82.37 237.99,80.05 238.06,81.37 238.13,79.12 238.20,79.64 238.27,81.52 238.34,80.63 238.40,78.33 238.47,80.59 238.54,79.86 238.61,79.00 238.68,80.68 238.75,79.55 238.81,77.99 238.88,78.60 238.95,82.44 239.02,78.05 239.09,80.37 239.16,80.88 239.23,80.92 239.29,78.42 239.36,79.62 239.43,80.24 239.50,81.12 239.57,79.18 239.64,78.49 239.70,81.38 239.77,81.52 239.84,80.53 239.91,79.23 239.98,80.58 240.05,80.19 240.11,81.16 240.18,78.38 240.25,80.21 240.32,79.84 240.39,78.58 240.46,80.35 240.53,80.12 240.59,79.53 240.66,80.62 240.73,78.20 240.80,80.03 240.87,80.69 240.94,80.50 241.00,81.57 241.07,78.54 241.14,78.15 241.21,80.49 241.28,80.79 241.35,83.03 241.42,81.04 241.48,79.06 241.55,81.32 241.62,79.12 241.69,78.28 241.76,83.77 241.83,80.73 241.89,81.27 241.96,81.08 242.03,82.76 242.10,80.73 242.17,81.99 242.24,79.01 242.31,78.53 242.37,82.31 242.44,82.39 242.51,81.11 242.58,80.74 242.65,80.67 242.72,79.54 242.78,82.53 242.85,81.36 242.92,81.17 242.99,81.00 243.06,81.91 243.13,81.19 243.19,81.52 243.26,78.97 243.33,81.22 243.40,83.47 243.47,79.86 243.54,80.39 243.61,81.76 243.67,81.85 243.74,81.41 243.81,78.42 243.88,81.26 243.95,79.01 244.02,79.49 244.08,81.33 244.15,80.21 244.22,81.69 244.29,84.81 244.36,81.65 244.43,81.58 244.50,79.42 244.56,79.76 244.63,79.20 244.70,79.91 244.77,79.17 244.84,79.75 244.91,80.35 244.97,79.30 245.04,78.74 245.11,78.82 245.18,81.25 245.25,80.72 245.32,82.01 245.39,82.04 245.45,80.19 245.52,81.54 245.59,78.73 245.66,83.70 245.73,82.25 245.80,80.37 245.86,79.10 245.93,81.17 246.00,78.16 246.07,79.62 246.14,81.66 246.21,80.77 246.27,80.01 246.34,81.94 246.41,79.28 246.48,81.05 246.55,80.01 246.62,79.54 246.69,81.29 246.75,79.35 246.82,83.22 246.89,79.90 246.96,83.34 247.03,79.22 247.10,81.49 247.16,79.08 247.23,78.89 247.30,80.90 247.37,81.59 247.44,78.99 247.51,82.27 247.58,79.63 247.64,80.87 247.71,81.20 247.78,81.49 247.85,78.29 247.92,82.86 247.99,81.45 248.05,80.13 248.12,79.33 248.19,78.44 248.26,78.88 248.33,81.43 248.40,80.25 248.47,79.19 248.53,80.00 248.60,82.80 248.67,80.27 248.74,79.93 248.81,82.51 248.88,81.33 248.94,80.77 249.01,79.90 249.08,78.64 249.15,79.15 249.22,80.07 249.29,80.42 249.35,81.19 249.42,81.45 249.49,81.01 249.56,81.01 249.63,79.37 249.70,77.84 249.77,80.02 249.83,79.44 249.90,79.85 249.97,80.35 250.04,79.06 250.11,79.23 250.18,80.58 250.24,80.87 250.31,79.84 250.38,81.38 250.45,80.42 250.52,79.35 250.59,80.77 250.66,83.23 250.72,79.81 250.79,82.27 250.86,82.55 250.93,82.71 251.00,79.60 251.07,83.39 251.13,80.86 251.20,80.36 251.27,80.39 251.34,81.50 251.41,80.76 251.48,80.45 251.55,82.40 251.61,79.71 251.68,79.28 251.75,81.73 251.82,81.60 251.89,82.12 251.96,79.22 252.02,82.09 252.09,81.29 252.16,82.99 252.23,78.96 252.30,80.92 252.37,80.25 252.43,78.49 252.50,79.65 252.57,82.10 252.64,79.96 252.71,79.62 252.78,81.73 252.85,81.89 252.91,81.87 252.98,79.49 253.05,80.46 253.12,81.91 253.19,79.64 253.26,79.51 253.32,81.61 253.39,82.58 253.46,78.94 253.53,77.00 253.60,78.52 253.67,79.10 253.74,80.26 253.80,81.26 253.87,80.23 253.94,79.48 254.01,80.61 254.08,79.11 254.15,80.32 254.21,79.52 254.28,83.95 254.35,81.45 254.42,79.24 254.49,79.01 254.56,79.75 254.63,78.13 254.69,79.35 254.76,79.33 254.83,81.49 254.90,79.73 254.97,79.24 255.04,78.50 255.10,78.72 255.17,80.20 255.24,80.00 255.31,81.80 255.38,79.44 255.45,81.69 255.51,80.62 255.58,80.27 255.65,77.59 255.72,78.55 255.79,81.27 255.86,82.15 255.93,80.56 255.99,81.30 256.06,79.74 256.13,79.80 256.20,79.41 256.27,81.60 256.34,80.76 256.40,80.00 256.47,79.88 256.54,81.07 256.61,80.76 256.68,79.22 256.75,82.63 256.82,80.69 256.88,80.37 256.95,82.34 257.02,81.74 257.09,80.26 257.16,81.10 257.23,78.96 257.29,79.54 257.36,77.39 257.43,82.04 257.50,77.88 257.57,81.34 257.64,79.32 257.71,79.13 257.77,80.19 257.84,80.81 257.91,81.28 257.98,82.83 258.05,80.95 258.12,81.65 258.18,79.67 258.25,81.43 258.32,80.68 258.39,79.86 258.46,80.35 258.53,80.40 258.59,80.74 258.66,81.02 258.73,79.80 258.80,79.49 258.87,81.47 258.94,78.21 259.01,79.64 259.07,82.54 259.14,76.84 259.21,79.52 259.28,81.36 259.35,78.23 259.42,83.90 259.48,76.96 259.55,82.33 259.62,82.48 259.69,81.61 259.76,80.07 259.83,80.83 259.90,79.14 259.96,81.41 260.03,78.81 260.10,79.93 260.17,81.61 260.24,78.77 260.31,79.75 260.37,80.44 260.44,78.41 260.51,81.74 260.58,80.62 260.65,78.11 260.72,80.05 260.79,79.06 260.85,79.19 260.92,80.15 260.99,79.08 261.06,81.29 261.13,79.03 261.20,81.26 261.26,79.87 261.33,81.04 261.40,79.15 261.47,79.17 261.54,78.28 261.61,80.57 261.68,81.03 261.74,82.58 261.81,81.45 261.88,80.03 261.95,79.39 262.02,80.17 262.09,79.58 262.15,81.55 262.22,80.83 262.29,78.43 262.36,78.61 262.43,81.33 262.50,79.89 262.56,79.15 262.63,81.03 262.70,78.90 262.77,79.03 262.84,78.77 262.91,76.74 262.98,80.50 263.04,77.72 263.11,78.56 263.18,78.31 263.25,80.26 263.32,79.19 263.39,79.29 263.45,77.02 263.52,79.13 263.59,77.27 263.66,79.65 263.73,79.72 263.80,79.21 263.87,81.96 263.93,79.93 264.00,80.02 264.07,79.42 264.14,78.97 264.21,80.52 264.28,80.71 264.34,77.50 264.41,80.66 264.48,79.94 264.55,80.55 264.62,79.90 264.69,77.62 264.76,77.73 264.82,81.75 264.89,79.66 264.96,77.45 265.03,79.82 265.10,78.89 265.17,76.93 265.23,76.35 265.30,77.29 265.37,79.82 265.44,79.41 265.51,79.16 265.58,79.90 265.64,80.34 265.71,76.76 265.78,79.19 265.85,78.51 265.92,77.99 265.99,78.93 266.06,79.53 266.12,79.36 266.19,77.80 266.26,79.12 266.33,82.49 266.40,78.41 266.47,77.60 266.53,80.24 266.60,80.70 266.67,80.55 266.74,78.46 266.81,81.32 266.88,78.96 266.95,78.52 267.01,79.25 267.08,79.94 267.15,81.07 267.22,80.97 267.29,80.13 267.36,81.43 267.42,80.32 267.49,81.43 267.56,78.38 267.63,78.18 267.70,81.34 267.77,78.47 267.84,79.94 267.90,80.23 267.97,79.73 268.04,79.80 268.11,82.28 268.18,77.06 268.25,81.64 268.31,83.54 268.38,80.53 268.45,80.49 268.52,81.50 268.59,82.99 268.66,78.97 268.72,80.69 268.79,80.34 268.86,81.35 268.93,80.83 269.00,81.51 269.07,80.07 269.14,80.71 269.20,79.76 269.27,79.78 269.34,80.49 269.41,80.50 269.48,79.13 269.55,82.81 269.61,80.54 269.68,78.88 269.75,82.21 269.82,79.74 269.89,81.43 269.96,80.73 270.03,81.10 270.09,81.00 270.16,80.01 270.23,80.83 270.30,83.50 270.37,77.80 270.44,80.88 270.50,81.38 270.57,79.40 270.64,78.98 270.71,83.70 270.78,80.32 270.85,83.60 270.92,81.54 270.98,80.93 271.05,81.47 271.12,81.68 271.19,82.41 271.26,81.42 271.33,81.04 271.39,81.08 271.46,82.65 271.53,81.94 271.60,79.51 271.67,80.01 271.74,81.30 271.80,80.03 271.87,80.36 271.94,79.59 272.01,80.51 272.08,81.43 272.15,82.20 272.22,80.88 272.28,83.64 272.35,80.77 272.42,85.14 272.49,82.21 272.56,81.54 272.63,80.21 272.69,77.11 272.76,80.67 272.83,81.12 272.90,83.45 272.97,79.04 273.04,83.43 273.11,80.55 273.17,81.86 273.24,77.50 273.31,81.08 273.38,80.43 273.45,81.81 273.52,81.02 273.58,79.37 273.65,82.16 273.72,81.83 273.79,81.70 273.86,82.25 273.93,82.37 274.00,80.87 274.06,79.09 274.13,79.06 274.20,82.71 274.27,81.86 274.34,81.04 274.41,80.33 274.47,80.95 274.54,80.95 274.61,80.46 274.68,79.98 274.75,83.80 274.82,81.22 274.88,80.11 274.95,79.18 275.02,79.95 275.09,81.88 275.16,81.93 275.23,80.63 275.30,80.99 275.36,80.52 275.43,79.45 275.50,82.66 275.57,81.42 275.64,84.23 275.71,79.92 275.77,80.75 275.84,82.11 275.91,80.61 275.98,79.08 276.05,79.67 276.12,81.07 276.19,81.39 276.25,80.81 276.32,82.28 276.39,82.26 276.46,81.37 276.53,80.98 276.60,80.61 276.66,81.68 276.73,82.17 276.80,81.03 276.87,81.55 276.94,80.52 277.01,79.07 277.08,79.62 277.14,81.97 277.21,81.55 277.28,83.07 277.35,81.03 277.42,82.11 277.49,82.72 277.55,82.28 277.62,80.15 277.69,80.71 277.76,81.13 277.83,79.65 277.90,81.59 277.96,82.33 278.03,80.32 278.10,83.59 278.17,80.58 278.24,80.70 278.31,80.65 278.38,80.03 278.44,81.53 278.51,81.00 278.58,83.19 278.65,81.78 278.72,81.69 278.79,80.68 278.85,79.09 278.92,80.86 278.99,79.85 279.06,82.25 279.13,80.94 279.20,83.20 279.27,81.96 279.33,82.10 279.40,81.29 279.47,81.26 279.54,81.86 279.61,82.22 279.68,80.04 279.74,81.65 279.81,84.48 279.88,80.87 279.95,80.65 280.02,80.07 280.09,79.07 280.16,82.58 280.22,81.08 280.29,81.40 280.36,83.46 280.43,84.34 280.50,79.82 280.57,82.41 280.63,81.83 280.70,81.54 280.77,81.64 280.84,80.98 280.91,83.13 280.98,81.83 281.04,81.47 281.11,82.67 281.18,82.21 281.25,81.63 281.32,81.45 281.39,83.35 281.46,81.70 281.52,80.90 281.59,79.88 281.66,80.56 281.73,79.63 281.80,81.17 281.87,81.37 281.93,78.30 282.00,81.05 282.07,81.89 282.14,81.25 282.21,79.76 282.28,82.72 282.35,80.10 282.41,79.40 282.48,79.59 282.55,81.01 282.62,82.34 282.69,82.59 282.76,81.32 282.82,79.45 282.89,80.16 282.96,79.84 283.03,80.80 283.10,78.68 283.17,81.19 283.24,81.90 283.30,80.85 283.37,81.66 283.44,79.80 283.51,79.11 283.58,80.20 283.65,82.59 283.71,82.42 283.78,80.44 283.85,82.65 283.92,80.62 283.99,83.06 284.06,81.69 284.12,80.45 284.19,82.11 284.26,80.03 284.33,79.81 284.40,79.13 284.47,81.40 284.54,80.99 284.60,80.96 284.67,80.52 284.74,82.97 284.81,80.50 284.88,80.10 284.95,82.72 285.01,82.95 285.08,81.52 285.15,78.75 285.22,80.27 285.29,81.88 285.36,81.09 285.43,83.14 285.49,79.25 285.56,81.97 285.63,80.24 285.70,82.83 285.77,80.97 285.84,82.44 285.90,80.21 285.97,79.20 286.04,79.60 286.11,80.27 286.18,79.72 286.25,82.68 286.32,82.86 286.38,81.44 286.45,79.71 286.52,80.93 286.59,80.17 286.66,83.02 286.73,81.50 286.79,81.74 286.86,80.56 286.93,78.41 287.00,80.06 287.07,79.60 287.14,81.58 287.20,81.22 287.27,80.03 287.34,80.58 287.41,83.17 287.48,79.82 287.55,79.87 287.62,80.79 287.68,80.17 287.75,80.53 287.82,81.80 287.89,83.40 287.96,78.73 288.03,81.07 288.09,81.15 288.16,80.99 288.23,80.85 288.30,80.65 288.37,82.44 288.44,80.49 288.51,80.94 288.57,81.10 288.64,81.25 288.71,80.88 288.78,82.43 288.85,81.10 288.92,81.34 288.98,81.04 289.05,79.78 289.12,80.01 289.19,79.72 289.26,81.37 289.33,80.17 289.40,79.70 289.46,81.43 289.53,81.81 289.60,78.78 289.67,83.36 289.74,81.16 289.81,80.98 289.87,82.54 289.94,81.21 290.01,80.32 290.08,84.04 290.15,79.70 290.22,80.99 290.28,82.25 290.35,79.70 290.42,80.99 290.49,81.64 290.56,84.32 290.63,79.94 290.70,81.06 290.76,82.00 290.83,81.24 290.90,79.53 290.97,81.67 291.04,81.27 291.11,81.72 291.17,82.64 291.24,82.48 291.31,81.68 291.38,81.55 291.45,79.68 291.52,80.96 291.59,81.43 291.65,80.61 291.72,81.27 291.79,80.04 291.86,83.18 291.93,84.00 292.00,80.63 292.06,81.67 292.13,80.83 292.20,82.82 292.27,81.72 292.34,81.25 292.41,80.85 292.48,81.31 292.54,79.82 292.61,82.05 292.68,80.20 292.75,81.86 292.82,81.32 292.89,82.60 292.95,81.13 293.02,82.51 293.09,79.93 293.16,81.96 293.23,80.86 293.30,81.41 293.36,81.25 293.43,82.40 293.50,78.48 293.57,81.59 293.64,79.18 293.71,82.76 293.78,78.54 293.84,79.83 293.91,78.94 293.98,83.34 294.05,79.45 294.12,81.32 294.19,80.45 294.25,78.78 294.32,80.72 294.39,82.05 294.46,80.92 294.53,82.42 294.60,80.69 294.67,81.18 294.73,80.66 294.80,81.63 294.87,83.69 294.94,81.65 295.01,81.43 295.08,80.35 295.14,80.17 295.21,83.12 295.28,79.70 295.35,79.97 295.42,81.05 295.49,80.61 295.56,83.77 295.62,78.04 295.69,81.66 295.76,82.13 295.83,79.70 295.90,80.33 295.97,81.76 296.03,83.35 296.10,79.97 296.17,79.09 296.24,82.48 296.31,83.21 296.38,80.74 296.45,78.25 296.51,83.12 296.58,80.93 296.65,82.68 296.72,81.13 296.79,80.70 296.86,80.59 296.92,83.15 296.99,83.10 297.06,78.36 297.13,79.96 297.20,83.55 297.27,80.71 297.33,79.40 297.40,81.21 297.47,81.06 297.54,81.07 297.61,80.57 297.68,80.79 297.75,80.60 297.81,81.65 297.88,80.13 297.95,80.82 298.02,81.02 298.09,82.94 298.16,81.70 298.22,81.06 298.29,81.92 298.36,81.75 298.43,82.65 298.50,81.88 298.57,83.59 298.64,82.99 298.70,81.16 298.77,80.66 298.84,82.38 298.91,81.90 298.98,81.09 299.05,79.26 299.11,78.79 299.18,81.68 299.25,82.24 299.32,82.28 299.39,79.51 299.46,82.59 299.53,80.51 299.59,81.73 299.66,81.77 299.73,80.16 299.80,80.44 299.87,78.47 299.94,80.01 300.00,78.83 300.07,81.80 300.14,81.30 300.21,82.43 300.28,81.70 300.35,80.38 300.41,81.68 300.48,80.71 300.55,82.03 300.62,81.64 300.69,79.92 300.76,81.23 300.83,81.30 300.89,80.82 300.96,82.41 301.03,83.50 301.10,80.74 301.17,80.76 301.24,78.25 301.30,81.06 301.37,80.65 301.44,78.36 301.51,81.61 301.58,82.01 301.65,80.26 301.72,80.73 301.78,79.95 301.85,82.24 301.92,79.22 301.99,80.81 302.06,83.81 302.13,81.30 302.19,81.85 302.26,81.03 302.33,79.67 302.40,81.19 302.47,81.77 302.54,79.87 302.61,81.68 302.67,82.88 302.74,82.65 302.81,79.13 302.88,79.94 302.95,79.09 303.02,82.65 303.08,82.04 303.15,82.16 303.22,80.07 303.29,79.68 303.36,81.33 303.43,81.36 303.49,80.10 303.56,81.42 303.63,82.08 303.70,81.53 303.77,79.85 303.84,78.43 303.91,80.89 303.97,81.45 304.04,80.88 304.11,80.66 304.18,80.31 304.25,82.18 304.32,81.16 304.38,81.39 304.45,79.94 304.52,80.41 304.59,81.45 304.66,79.90 304.73,79.56 304.80,80.79 304.86,82.82 304.93,81.48 305.00,83.16 305.07,81.06 305.14,80.82 305.21,79.39 305.27,80.47 305.34,83.13 305.41,81.66 305.48,82.20 305.55,82.16 305.62,81.22 305.69,80.96 305.75,81.39 305.82,82.12 305.89,81.84 305.96,81.88 306.03,81.43 306.10,80.21 306.16,80.88 306.23,79.98 306.30,82.56 306.37,78.45 306.44,80.94 306.51,84.39 306.57,80.78 306.64,79.73 306.71,81.21 306.78,82.94 306.85,81.02 306.92,82.04 306.99,81.36 307.05,80.74 307.12,85.40 307.19,81.33 307.26,80.52 307.33,80.58 307.40,81.74 307.46,81.77 307.53,82.25 307.60,81.42 307.67,79.33 307.74,81.94 307.81,80.82 307.88,80.85 307.94,79.27 308.01,80.47 308.08,80.27 308.15,81.18 308.22,79.31 308.29,81.30 308.35,81.40 308.42,79.75 308.49,80.40 308.56,80.10 308.63,82.43 308.70,77.88 308.77,80.78 308.83,79.03 308.90,80.66 308.97,82.35 309.04,80.40 309.11,81.41 309.18,80.11 309.24,83.80 309.31,82.44 309.38,82.73 309.45,79.47 309.52,79.77 309.59,82.66 309.65,80.97 309.72,80.89 309.79,81.67 309.86,79.57 309.93,82.26 310.00,81.26 310.07,81.87 310.13,80.34 310.20,81.91 310.27,80.30 310.34,82.50 310.41,82.73 310.48,82.44 310.54,81.92 310.61,82.07 310.68,77.65 310.75,82.34 310.82,80.87 310.89,81.36 310.96,80.86 311.02,79.39 311.09,80.52 311.16,82.10 311.23,83.11 311.30,80.41 311.37,80.03 311.43,83.16 311.50,80.06 311.57,83.98 311.64,81.30 311.71,80.06 311.78,82.54 311.85,83.48 311.91,79.33 311.98,83.30 312.05,80.86 312.12,83.20 312.19,80.73 312.26,79.14 312.32,81.90 312.39,82.46 312.46,84.01 312.53,83.52 312.60,82.15 312.67,80.92 312.73,80.54 312.80,80.84 312.87,80.13 312.94,80.87 313.01,77.86 313.08,81.47 313.15,81.19 313.21,84.63 313.28,82.24 313.35,80.60 313.42,81.98 313.49,79.61 313.56,80.43 313.62,78.76 313.69,83.14 313.76,82.02 313.83,79.68 313.90,81.15 313.97,82.49 314.04,81.89 314.10,81.74 314.17,80.10 314.24,80.39 314.31,81.36 314.38,82.45 314.45,80.14 314.51,79.75 314.58,82.75 314.65,80.00 314.72,82.66 314.79,81.56 314.86,82.40 314.93,83.54 314.99,82.15 315.06,82.26 315.13,80.02 315.20,80.31 315.27,82.09 315.34,83.27 315.40,83.08 315.47,84.30 315.54,81.65 315.61,81.50 315.68,82.57 315.75,81.26 315.81,81.15 315.88,79.85 315.95,82.55 316.02,79.81 316.09,81.91 316.16,79.35 316.23,82.69 316.29,79.87 316.36,82.35 316.43,79.13 316.50,80.65 316.57,82.80 316.64,80.17 316.70,81.32 316.77,80.60 316.84,78.17 316.91,81.64 316.98,81.81 317.05,79.77 317.12,81.99 317.18,80.18 317.25,79.91 317.32,81.24 317.39,80.33 317.46,84.27 317.53,79.17 317.59,82.21 317.66,82.54 317.73,78.61 317.80,78.94 317.87,81.98 317.94,80.60 318.01,81.74 318.07,82.74 318.14,80.74 318.21,79.83 318.28,77.62 318.35,81.51 318.42,80.00 318.48,81.65 318.55,81.54 318.62,79.40 318.69,83.52 318.76,82.67 318.83,82.36 318.89,79.67 318.96,80.70 319.03,80.51 319.10,80.69 319.17,79.75 319.24,81.81 319.31,81.54 319.37,81.72 319.44,80.56 319.51,82.95 319.58,81.48 319.65,77.61 319.72,80.39 319.78,81.16 319.85,82.51 319.92,80.84 319.99,80.90 320.06,80.36 320.13,82.12 320.20,80.64 320.26,80.44 320.33,80.25 320.40,81.97 320.47,80.53 320.54,79.02 320.61,82.06 320.67,80.31 320.74,81.71 320.81,81.73 320.88,82.83 320.95,82.62 321.02,80.47 321.09,81.02 321.15,79.53 321.22,83.46 321.29,81.82 321.36,83.08 321.43,80.81 321.50,78.52 321.56,83.26 321.63,81.36 321.70,81.41 321.77,81.31 321.84,82.09 321.91,81.94 321.97,79.13 322.04,82.68 322.11,80.54 322.18,80.62 322.25,83.52 322.32,82.46 322.39,80.79 322.45,78.78 322.52,81.45 322.59,81.95 322.66,81.13 322.73,79.59 322.80,80.19 322.86,79.57 322.93,81.52 323.00,82.32 323.07,82.59 323.14,80.27 323.21,81.55 323.28,81.97 323.34,80.56 323.41,81.04 323.48,84.05 323.55,81.51 323.62,82.41 323.69,80.66 323.75,81.29 323.82,78.97 323.89,81.20 323.96,82.82 324.03,84.02 324.10,82.82 324.17,82.15 324.23,81.31 324.30,80.44 324.37,81.02 324.44,82.05 324.51,80.20 324.58,82.47 324.64,79.93 324.71,78.88 324.78,79.90 324.85,79.03 324.92,79.42 324.99,82.74 325.05,80.97 325.12,81.53 325.19,82.77 325.26,82.90 325.33,80.57 325.40,83.00 325.47,81.75 325.53,81.24 325.60,81.82 325.67,79.35 325.74,80.20 325.81,81.09 325.88,82.04 325.94,80.74 326.01,81.07 326.08,82.52 326.15,83.11 326.22,82.25 326.29,82.92 326.36,80.70 326.42,80.83 326.49,81.66 326.56,80.84 326.63,80.57 326.70,83.43 326.77,80.97 326.83,79.96 326.90,81.88 326.97,83.67 327.04,81.34 327.11,82.87 327.18,80.66 327.25,80.59 327.31,80.32 327.38,81.05 327.45,83.67 327.52,79.71 327.59,83.41 327.66,79.90 327.72,80.93 327.79,82.34 327.86,82.07 327.93,81.61 328.00,79.05 328.07,81.72 328.13,79.88 328.20,84.64 328.27,80.95 328.34,81.49 328.41,79.72 328.48,80.60 328.55,79.53 328.61,82.54 328.68,80.89 328.75,81.98 328.82,80.33 328.89,80.57 328.96,82.94 329.02,79.95 329.09,78.85 329.16,81.78 329.23,79.73 329.30,80.66 329.37,82.45 329.44,80.15 329.50,82.40 329.57,80.34 329.64,83.21 329.71,82.99 329.78,80.61 329.85,80.96 329.91,80.14 329.98,81.50 330.05,82.76 330.12,79.32 330.19,82.45 330.26,79.48 330.33,80.10 330.39,78.87 330.46,84.03 330.53,81.32 330.60,81.56 330.67,80.34 330.74,82.65 330.80,78.45 330.87,81.27 330.94,84.16 331.01,80.73 331.08,81.26 331.15,82.13 331.22,80.16 331.28,81.27 331.35,82.51 331.42,81.50 331.49,81.73 331.56,80.78 331.63,81.66 331.69,81.31 331.76,83.17 331.83,82.20 331.90,80.92 331.97,78.00 332.04,82.19 332.10,82.24 332.17,80.02 332.24,78.59 332.31,79.73 332.38,82.47 332.45,79.83 332.52,80.63 332.58,81.53 332.65,82.86 332.72,81.21 332.79,81.11 332.86,80.51 332.93,83.40 332.99,82.65 333.06,81.11 333.13,79.39 333.20,80.19 333.27,82.01 333.34,80.28 333.41,82.42 333.47,81.72 333.54,81.63 333.61,82.10 333.68,81.90 333.75,80.11 333.82,80.81 333.88,84.34 333.95,79.64 334.02,80.61 334.09,82.65 334.16,81.03 334.23,80.16 334.30,79.49 334.36,81.95 334.43,82.59 334.50,83.09 334.57,81.31 334.64,82.62 334.71,79.87 334.77,81.46 334.84,80.34 334.91,81.47 334.98,82.23 335.05,82.66 335.12,79.93 335.18,82.92 335.25,80.61 335.32,79.88 335.39,81.01 335.46,79.30 335.53,81.24 335.60,81.62 335.66,80.97 335.73,81.95 335.80,80.82 335.87,81.24 335.94,79.33 336.01,81.30 336.07,80.11 336.14,80.64 336.21,81.11 336.28,81.49 336.35,79.06 336.42,79.17 336.49,80.84 336.55,81.87 336.62,81.72 336.69,82.42 336.76,82.96 336.83,81.90 336.90,81.21 336.96,79.87 337.03,79.99 337.10,80.62 337.17,81.59 337.24,81.53 337.31,81.24 337.38,81.04 337.44,82.07 337.51,81.52 337.58,81.63 337.65,81.65 337.72,80.52 337.79,79.87 337.85,81.89 337.92,81.79 337.99,80.95 338.06,80.69 338.13,84.26 338.20,80.23 338.26,80.95 338.33,81.59 338.40,79.71 338.47,81.39 338.54,83.62 338.61,82.48 338.68,82.08 338.74,82.02 338.81,81.39 338.88,82.51 338.95,81.03 339.02,80.68 339.09,81.37 339.15,82.44 339.22,81.68 339.29,82.13 339.36,78.56 339.43,82.82 339.50,84.34 339.57,83.01 339.63,80.82 339.70,80.12 339.77,81.61 339.84,79.93 339.91,82.20 339.98,80.54 340.04,82.51 340.11,83.04 340.18,78.55 340.25,81.63 340.32,80.31 340.39,79.37 340.46,80.42 340.52,80.95 340.59,82.61 340.66,79.22 340.73,82.63 340.80,83.91 340.87,82.03 340.93,81.96 341.00,81.22 341.07,79.68 341.14,81.95 341.21,81.75 341.28,82.21 341.34,84.64 341.41,82.20 341.48,81.80 341.55,83.31 341.62,79.46 341.69,79.73 341.76,80.74 341.82,80.37 341.89,82.16 341.96,80.82 342.03,83.54 342.10,83.25 342.17,82.26 342.23,80.73 342.30,82.06 342.37,82.31 342.44,79.83 342.51,81.70 342.58,82.18 342.65,81.53 342.71,83.32 342.78,82.85 342.85,80.15 342.92,81.40 342.99,80.13 343.06,82.01 343.12,80.09 343.19,82.46 343.26,81.75 343.33,82.53 343.40,81.05 343.47,79.31 343.54,83.58 343.60,81.01 343.67,83.06 343.74,81.81 343.81,82.13 343.88,83.66 343.95,81.69 344.01,83.10 344.08,79.27 344.15,82.39 344.22,80.92 344.29,81.06 344.36,81.25 344.42,81.70 344.49,83.44 344.56,78.78 344.63,81.30 344.70,80.29 344.77,82.78 344.84,80.68 344.90,81.85 344.97,80.71 345.04,82.13 345.11,82.58 345.18,80.71 345.25,81.31 345.31,79.36 345.38,81.64 345.45,82.37 345.52,80.50 345.59,82.72 345.66,78.49 345.73,78.79 345.79,79.40 345.86,80.60 345.93,81.27 346.00,81.14 346.07,81.15 346.14,82.20 346.20,80.62 346.27,79.57 346.34,79.59 346.41,84.04 346.48,78.12 346.55,81.01 346.62,83.17 346.68,81.88 346.75,80.14 346.82,81.24 346.89,82.39 346.96,82.84 347.03,80.05 347.09,82.25 347.16,81.58 347.23,82.70 347.30,83.08 347.37,80.79 347.44,79.32 347.50,81.77 347.57,83.59 347.64,82.15 347.71,81.55 347.78,84.42 347.85,79.86 347.92,82.44 347.98,80.49 348.05,81.31 348.12,81.36 348.19,83.25 348.26,80.00 348.33,80.53 348.39,79.13 348.46,81.89 348.53,80.63 348.60,81.80" fill="none" stroke="#ff0f8a" stroke-width="0.72" stroke-linejoin="round"/>
<g stroke="#111" stroke-width="1.2"><line x1="155.4" y1="129.0" x2="155.4" y2="160"/><line x1="168.7" y1="155.4" x2="168.7" y2="160"/><line x1="174.9" y1="141.7" x2="174.9" y2="160"/><line x1="225.5" y1="114.4" x2="225.5" y2="160"/><line x1="264.7" y1="139.2" x2="264.7" y2="160"/><line x1="295.0" y1="155.3" x2="295.0" y2="160"/><line x1="308.9" y1="153.8" x2="308.9" y2="160"/><line x1="316.8" y1="154.0" x2="316.8" y2="160"/><line x1="321.6" y1="156.0" x2="321.6" y2="160"/><line x1="340.6" y1="155.0" x2="340.6" y2="160"/><line x1="108.2" y1="201.7" x2="108.2" y2="217"/><line x1="134.5" y1="172.0" x2="134.5" y2="217"/><line x1="144.8" y1="213.7" x2="144.8" y2="217"/><line x1="157.1" y1="207.9" x2="157.1" y2="217"/><line x1="171.5" y1="206.2" x2="171.5" y2="217"/><line x1="185.0" y1="207.2" x2="185.0" y2="217"/><line x1="201.8" y1="211.3" x2="201.8" y2="217"/><line x1="208.1" y1="202.3" x2="208.1" y2="217"/><line x1="209.0" y1="201.5" x2="209.0" y2="217"/><line x1="236.7" y1="213.3" x2="236.7" y2="217"/><line x1="240.0" y1="211.0" x2="240.0" y2="217"/><line x1="251.4" y1="213.7" x2="251.4" y2="217"/><line x1="253.8" y1="212.3" x2="253.8" y2="217"/><line x1="259.6" y1="212.6" x2="259.6" y2="217"/><line x1="262.3" y1="213.7" x2="262.3" y2="217"/><line x1="264.0" y1="213.3" x2="264.0" y2="217"/><line x1="267.8" y1="211.6" x2="267.8" y2="217"/><line x1="284.2" y1="213.7" x2="284.2" y2="217"/><line x1="290.0" y1="213.2" x2="290.0" y2="217"/><line x1="298.4" y1="213.5" x2="298.4" y2="217"/><line x1="305.0" y1="211.5" x2="305.0" y2="217"/><line x1="313.2" y1="213.5" x2="313.2" y2="217"/><line x1="322.6" y1="213.5" x2="322.6" y2="217"/><line x1="328.9" y1="213.3" x2="328.9" y2="217"/><line x1="331.2" y1="213.3" x2="331.2" y2="217"/><line x1="341.9" y1="213.3" x2="341.9" y2="217"/><line x1="343.9" y1="212.8" x2="343.9" y2="217"/></g>
<g stroke="#000" stroke-width="1"><line x1="55.8" y1="5.40" x2="59.5" y2="5.40"/><line x1="55.8" y1="47.90" x2="59.5" y2="47.90"/><line x1="55.8" y1="90.40" x2="59.5" y2="90.40"/><line x1="55.8" y1="132.90" x2="59.5" y2="132.90"/><line x1="55.8" y1="175.40" x2="59.5" y2="175.40"/><line x1="55.8" y1="217.90" x2="59.5" y2="217.90"/><line x1="57.6" y1="26.65" x2="59.5" y2="26.65"/><line x1="57.6" y1="69.15" x2="59.5" y2="69.15"/><line x1="57.6" y1="111.65" x2="59.5" y2="111.65"/><line x1="57.6" y1="154.15" x2="59.5" y2="154.15"/><line x1="57.6" y1="196.65" x2="59.5" y2="196.65"/><line x1="92.90" y1="218" x2="92.90" y2="222.5"/><line x1="166.34" y1="218" x2="166.34" y2="222.5"/><line x1="239.78" y1="218" x2="239.78" y2="222.5"/><line x1="313.22" y1="218" x2="313.22" y2="222.5"/><line x1="129.62" y1="218" x2="129.62" y2="220.8"/><line x1="203.06" y1="218" x2="203.06" y2="220.8"/><line x1="276.50" y1="218" x2="276.50" y2="220.8"/><line x1="349.94" y1="218" x2="349.94" y2="220.8"/></g>
<path d="M60.1,4.3 V218.9 M58.9,5.5 H351 M58.9,217.9 H351 M58.9,160.3 H351" fill="none" stroke="#000" stroke-width="2.4"/>
<rect x="348.3" y="4.3" width="2.7" height="214.6" fill="#000"/>
<g class="ax"><text x="53" y="8.60" text-anchor="end">3000</text><text x="53" y="51.10" text-anchor="end">2000</text><text x="53" y="93.60" text-anchor="end">1000</text><text x="53" y="136.10" text-anchor="end">0</text><text x="53" y="178.60" text-anchor="end">-1000</text><text x="53" y="221.10" text-anchor="end">-2000</text><text x="92.90" y="233.7" text-anchor="middle">20</text><text x="166.34" y="233.7" text-anchor="middle">40</text><text x="239.78" y="233.7" text-anchor="middle">60</text><text x="313.22" y="233.7" text-anchor="middle">80</text></g>
<text class="ax" transform="translate(10.2,111.9) rotate(-90)" text-anchor="middle">Intensity (a.u.)</text>
<g class="pk" stroke-width="0.35"><text transform="translate(110.9,63.8) rotate(-90)" fill="#111" stroke="#111">(012)</text><text transform="translate(137.8,58.2) rotate(-90)" fill="#111" stroke="#111">(104)</text><text transform="translate(159.5,59.8) rotate(-90)" fill="#111" stroke="#111">(110)</text><text transform="translate(174.1,68.6) rotate(-90)" fill="#111" stroke="#111">(113)</text><text transform="translate(187.5,72.2) rotate(-90)" fill="#111" stroke="#111">(202)</text><text transform="translate(205.3,76.1) rotate(-90)" fill="#111" stroke="#111">(024)</text><text transform="translate(211.5,73.3) rotate(-90)" fill="#111" stroke="#111">(018)</text><text transform="translate(242.5,76.6) rotate(-90)" fill="#111" stroke="#111">(122)</text><text transform="translate(258.3,74.9) rotate(-90)" fill="#111" stroke="#111">(214)</text><text transform="translate(266.2,72.6) rotate(-90)" fill="#111" stroke="#111">(300)</text><text transform="translate(158.9,96.2) rotate(-90)" fill="#ff2a1c" stroke="#ff2a1c">(100)</text><text transform="translate(177.5,97.3) rotate(-90)" fill="#ff2a1c" stroke="#ff2a1c">(101)</text><text transform="translate(227.8,96.1) rotate(-90)" fill="#ff2a1c" stroke="#ff2a1c">(102)</text><text transform="translate(266.3,98.4) rotate(-90)" fill="#ff2a1c" stroke="#ff2a1c">(110)</text></g>
<line x1="238.3" y1="16.2" x2="260.5" y2="16.2" stroke="#ff99c8" stroke-width="1.15"/>
<text class="lb" x="264.8" y="20.3">MnO<tspan dy="2.6" font-size="6.4px">2</tspan><tspan dy="-2.6">@MnCO</tspan><tspan dy="2.6" font-size="6.4px">3</tspan></text>
<text class="lb" x="310.6" y="134.9">MnO<tspan dy="2.6" font-size="6.4px">2</tspan></text>
<text class="lb" x="305.8" y="181.9">MnCO<tspan dy="2.6" font-size="6.4px">3</tspan></text>
<text class="xl" y="253.4" text-anchor="middle" x="169.1 174 178.9 184 189.5 194.5 200.8 207 213.3 219.6 225.8 232.1 238">2 θ (degAree)</text>
</svg>
</body></html>
